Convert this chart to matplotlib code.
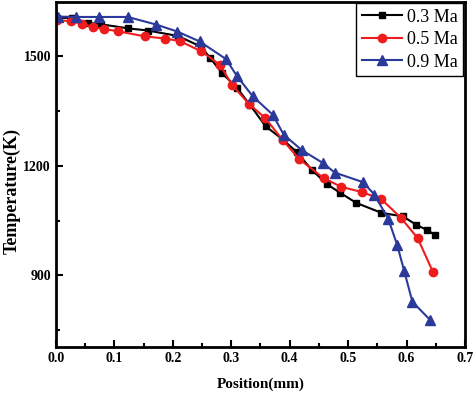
import matplotlib.pyplot as plt
from matplotlib.ticker import MultipleLocator

plt.rcParams['font.family'] = ['Liberation Serif', 'DejaVu Serif']

# 0.3 Ma
x_03 = [0.002, 0.027, 0.055, 0.077, 0.123, 0.157, 0.209, 0.248, 0.264, 0.284, 0.310,
        0.332, 0.359, 0.387, 0.412, 0.438, 0.464, 0.486, 0.514, 0.557, 0.594, 0.617,
        0.635, 0.649]
t_03 = [1604, 1603, 1590, 1586, 1575, 1569, 1554, 1525, 1494, 1453, 1412,
        1366, 1307, 1273, 1237, 1188, 1149, 1126, 1098, 1071, 1061, 1038,
        1024, 1010]

# 0.5 Ma
x_05 = [0.002, 0.025, 0.045, 0.063, 0.082, 0.106, 0.152, 0.187, 0.212, 0.249, 0.281,
        0.301, 0.330, 0.358, 0.388, 0.416, 0.458, 0.488, 0.523, 0.557, 0.590, 0.619,
        0.645]
t_05 = [1598, 1594, 1588, 1578, 1573, 1567, 1553, 1547, 1540, 1512, 1475,
        1421, 1369, 1330, 1270, 1218, 1166, 1142, 1128, 1108, 1058, 1002,
        910]

# 0.9 Ma
x_09 = [0.003, 0.034, 0.074, 0.123, 0.172, 0.208, 0.246, 0.291, 0.310, 0.337, 0.371,
        0.390, 0.421, 0.457, 0.477, 0.525, 0.545, 0.569, 0.584, 0.596, 0.610, 0.640]
t_09 = [1607, 1606, 1606, 1606, 1585, 1566, 1539, 1491, 1444, 1389, 1339,
        1284, 1242, 1207, 1181, 1155, 1121, 1053, 983, 912, 828, 779]

fig = plt.figure(figsize=(4.74, 3.95), dpi=100)
ax = fig.add_axes([0.118, 0.122, 0.863, 0.874])

ax.plot(x_03, t_03, color='black', marker='s', markersize=5, linewidth=1.5, label='0.3 Ma')
ax.plot(x_05, t_05, color='#ee1c1c', marker='o', markersize=6, linewidth=1.5, label='0.5 Ma')
ax.plot(x_09, t_09, color='#2b3a9a', marker='^', markersize=6.5, linewidth=1.5, label='0.9 Ma')

ax.set_xlim(0, 0.7)
ax.set_ylim(705, 1648)
ax.xaxis.set_major_locator(MultipleLocator(0.1))
ax.xaxis.set_minor_locator(MultipleLocator(0.05))
ax.yaxis.set_major_locator(MultipleLocator(300))
ax.yaxis.set_minor_locator(MultipleLocator(150))
ax.tick_params(which='both', direction='in', width=1.5, top=False, right=False)
ax.tick_params(which='major', length=5, labelsize=10)
ax.tick_params(which='minor', length=3)
for lab in ax.get_xticklabels() + ax.get_yticklabels():
    lab.set_fontweight('bold')
for s in ax.spines.values():
    s.set_linewidth(2)

ax.set_xlabel('Position(mm)', fontsize=11, fontweight='bold', labelpad=9)
ax.set_ylabel('Temperature(K)', fontsize=13, fontweight='bold')
ax.yaxis.set_label_coords(-0.085, 0.451)

leg = ax.legend(loc='upper right', fontsize=13, fancybox=False, edgecolor='black',
                borderaxespad=0.1, labelspacing=0.3, handlelength=2.2,
                handletextpad=0.3, borderpad=0.3, framealpha=1)
leg.get_frame().set_linewidth(1)

fig.savefig('out.png', dpi=100)
